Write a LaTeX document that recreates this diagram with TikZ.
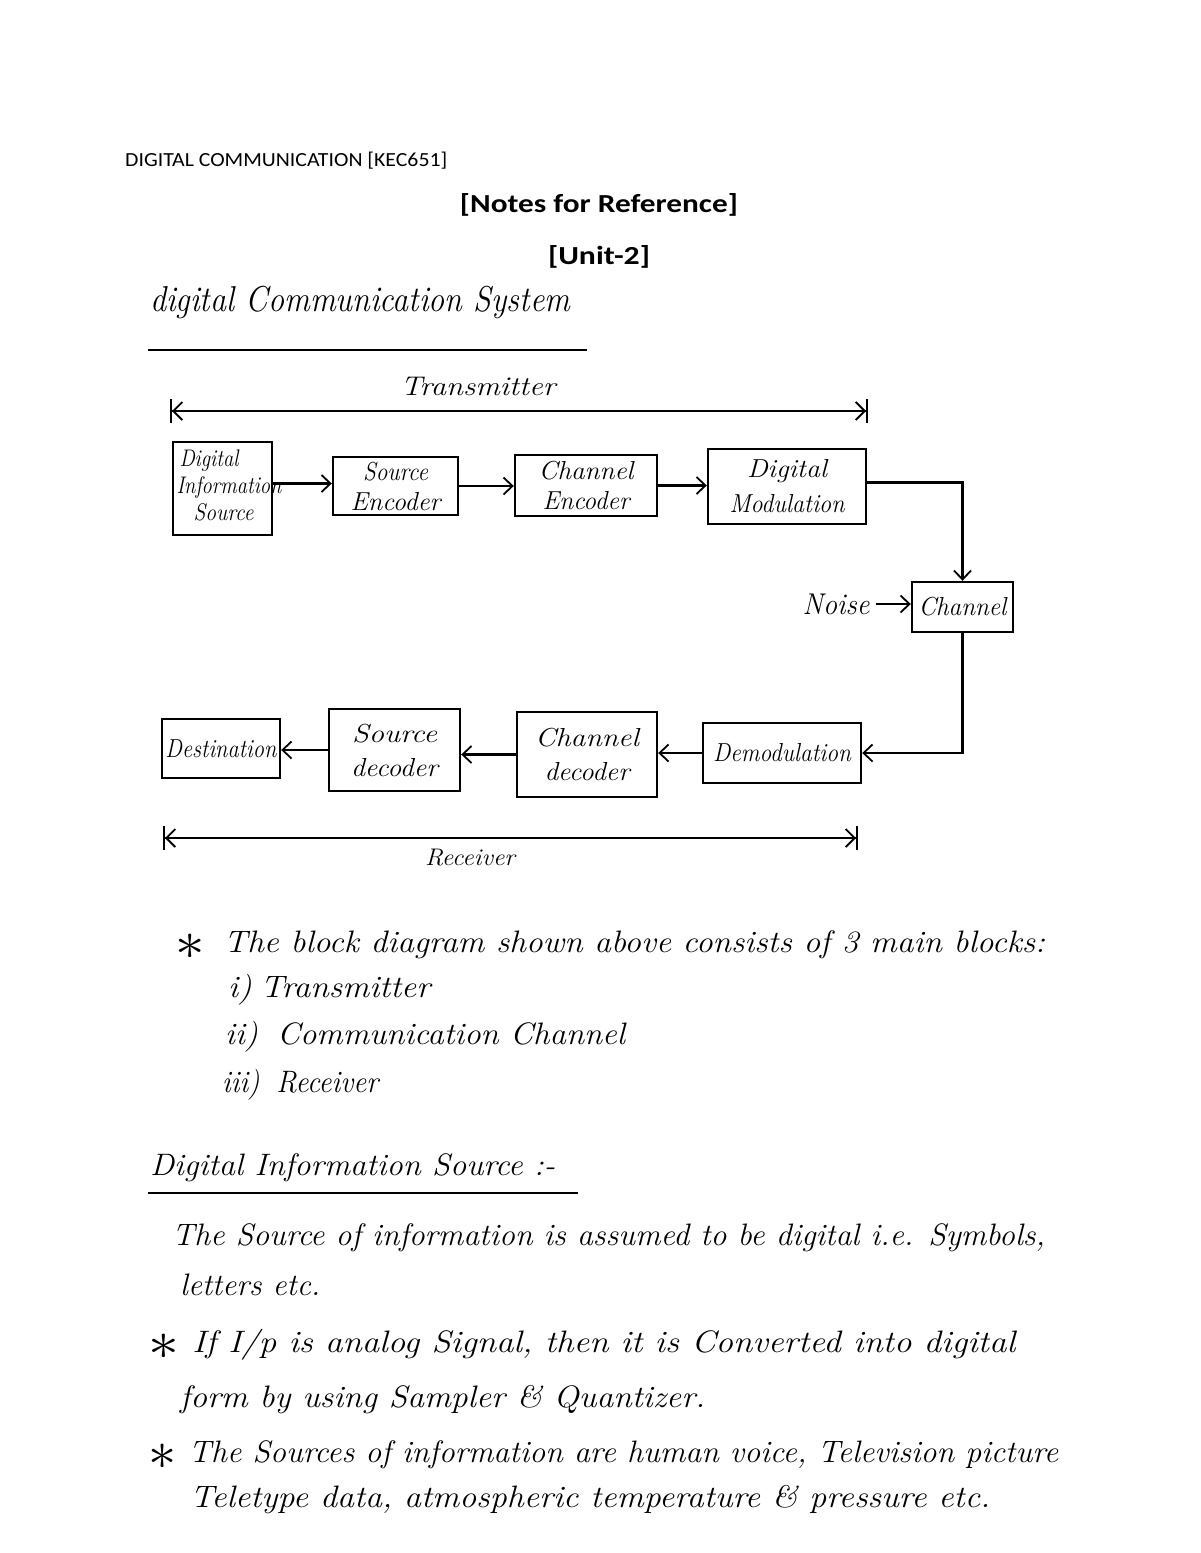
\documentclass[tikz,border=0pt]{standalone}
\usepackage{fontspec}
\usepackage{graphicx}
\newfontfamily\hdrfont{Carlito}
\usetikzlibrary{arrows.meta}
\newcommand\hw[2]{\resizebox{#1pt}{\height}{#2}}
\newcommand\bigast{\raisebox{-7pt}{\scalebox{2.2}{$\ast$}}}
\tikzset{
 blk/.style={draw, line width=2.4pt, inner sep=0pt, align=center, font=\fontsize{26}{30}\selectfont\itshape},
 hand/.style={inner sep=0pt, anchor=west, font=\fontsize{31}{36}\selectfont\itshape},
 lbl/.style={inner sep=0pt, font=\fontsize{27}{30}\selectfont\itshape},
 flow/.style={line width=2.2pt, -{Straight Barb[length=9pt,width=17pt,line width=1.8pt]}},
 span/.style={line width=2.2pt, {Bar[width=24pt,line width=2pt]Straight Barb[length=9pt,width=18pt,line width=1.8pt]}-{Straight Barb[length=9pt,width=18pt,line width=1.8pt]Bar[width=24pt,line width=2pt]}},
 rule/.style={line width=2.2pt},
}
\begin{document}
\begin{tikzpicture}[x=1pt,y=-1pt]
\useasboundingbox[fill=white] (0,0) rectangle (1200,1553);
% header
\node[font=\hdrfont\fontsize{20}{24}\selectfont, anchor=west, inner sep=0pt] (hdr) at (125,161) {\hw{322}{DIGITAL COMMUNICATION [KEC651]}};
\node[font=\hdrfont\bfseries\fontsize{26}{30}\selectfont, inner sep=0pt] (notes) at (599,205) {\hw{278}{[Notes for Reference]}};
\node[font=\hdrfont\bfseries\fontsize{26}{30}\selectfont, inner sep=0pt] (unit) at (599,257) {\hw{102}{[Unit-2]}};
% title
\node[hand, font=\fontsize{36}{40}\selectfont\itshape] (title) at (150,302) {\hw{420}{digital Communication System}};
\draw[rule] (148,350) -- (587,350);
% transmitter span
\node[lbl] (tx) at (478,386) {\hw{155}{Transmitter}};
\coordinate (tl) at (170,411);
\coordinate (tr) at (868,411);
\draw[span] (tl) -- (tr);
% transmitter blocks
\node[blk, minimum width=99pt, minimum height=93pt, font=\fontsize{24}{27}\selectfont\itshape] (dis) at (222.5,488.5)
  {\makebox[96pt][l]{\raisebox{8pt}{\hspace*{2pt}\begin{tabular}{@{}l@{}}\hspace*{3pt}\hw{59}{Digital}\\\hw{105}{Information}\\\hspace*{17pt}\hw{60}{Source}\end{tabular}}}};
\node[blk, minimum width=125pt, minimum height=58pt] (se) at (395.5,486) {\hw{65}{Source}\\\hw{90}{Encoder}};
\node[blk, minimum width=142pt, minimum height=61pt] (ce) at (586,485.5) {\hw{95}{Channel}\\\hw{87}{Encoder}};
\node[blk, minimum width=158pt, minimum height=75pt] (dm) at (787,486.5) {\hw{80}{Digital}\\[5pt]\hw{115}{Modulation}};
% channel
\node[blk, minimum width=101pt, minimum height=50pt] (ch) at (962.5,607) {\hw{88}{Channel}};
\node[lbl, font=\fontsize{30}{32}\selectfont\itshape] (noise) at (836,604) {\hw{67}{Noise}};
% receiver blocks
\node[blk, minimum width=158pt, minimum height=60pt] (dem) at (782,753) {\hw{138}{Demodulation}};
\node[blk, minimum width=140pt, minimum height=85pt] (cd) at (587,754.5) {\hw{104}{Channel}\\[4pt]\hw{85}{decoder}};
\node[blk, minimum width=131pt, minimum height=82pt] (sd) at (394.5,750) {\hw{85}{Source}\\[4pt]\hw{87}{decoder}};
\node[blk, minimum width=118pt, minimum height=59pt] (dest) at (221,748.5) {\hw{111}{Destination}};
% receiver span
\coordinate (rl) at (163,838);
\coordinate (rr) at (858,838);
\draw[span] (rl) -- (rr);
\node[lbl, font=\fontsize{24}{26}\selectfont\itshape] (rx) at (470,858) {\hw{90}{Receiver}};
% connectors
\draw[flow] ([yshift=5pt]dis.east) -- ([yshift=5pt]dis.east -| se.west);
\draw[flow] (se.east) -- (se.east -| ce.west);
\draw[flow] (ce.east) -- (ce.east -| dm.west);
\draw[flow] ([yshift=4pt]dm.east) -| (ch.north);
\draw[flow, shorten <=6pt] (noise.east) -- (noise.east -| ch.west);
\draw[flow] (ch.south) |- (dem.east);
\draw[flow] (dem.west) -- (dem.west -| cd.east);
\draw[flow] (cd.west) -- (cd.west -| sd.east);
\draw[flow] (sd.west) -- (sd.west -| dest.east);
% notes
\node[hand] (b1) at (175,945) {\hw{870}{\bigast\hspace{18pt}The block diagram shown above consists of 3 main blocks:}};
\node[hand] (i1) at (228,990) {\hw{202}{i)\hspace{8pt}Transmitter}};
\node[hand] (i2) at (225,1037) {\hw{400}{ii)\hspace{18pt}Communication Channel}};
\node[hand] (i3) at (222,1085) {\hw{156}{iii)\hspace{18pt}Receiver}};
\node[hand] (h2) at (150,1168) {\hw{405}{Digital Information Source :-}};
\draw[rule] (148,1193) -- (578,1193);
\node[hand] (p1) at (172,1238) {\hw{873}{The Source of information is assumed to be digital i.e. Symbols,}};
\node[hand] (p2) at (180,1285) {\hw{140}{letters etc.}};
\node[hand] (p3) at (148,1345) {\hw{867}{\bigast\hspace{12pt}If I/p is analog Signal, then it is Converted into digital}};
\node[hand] (p4) at (180,1400) {\hw{525}{form by using Sampler \& Quantizer.}};
\node[hand] (p5) at (148,1455) {\hw{910}{\bigast\hspace{12pt}The Sources of information are human voice, Television picture}};
\node[hand] (p6) at (190,1500) {\hw{800}{Teletype data, atmospheric temperature \& pressure etc.}};
\end{tikzpicture}
\end{document}
